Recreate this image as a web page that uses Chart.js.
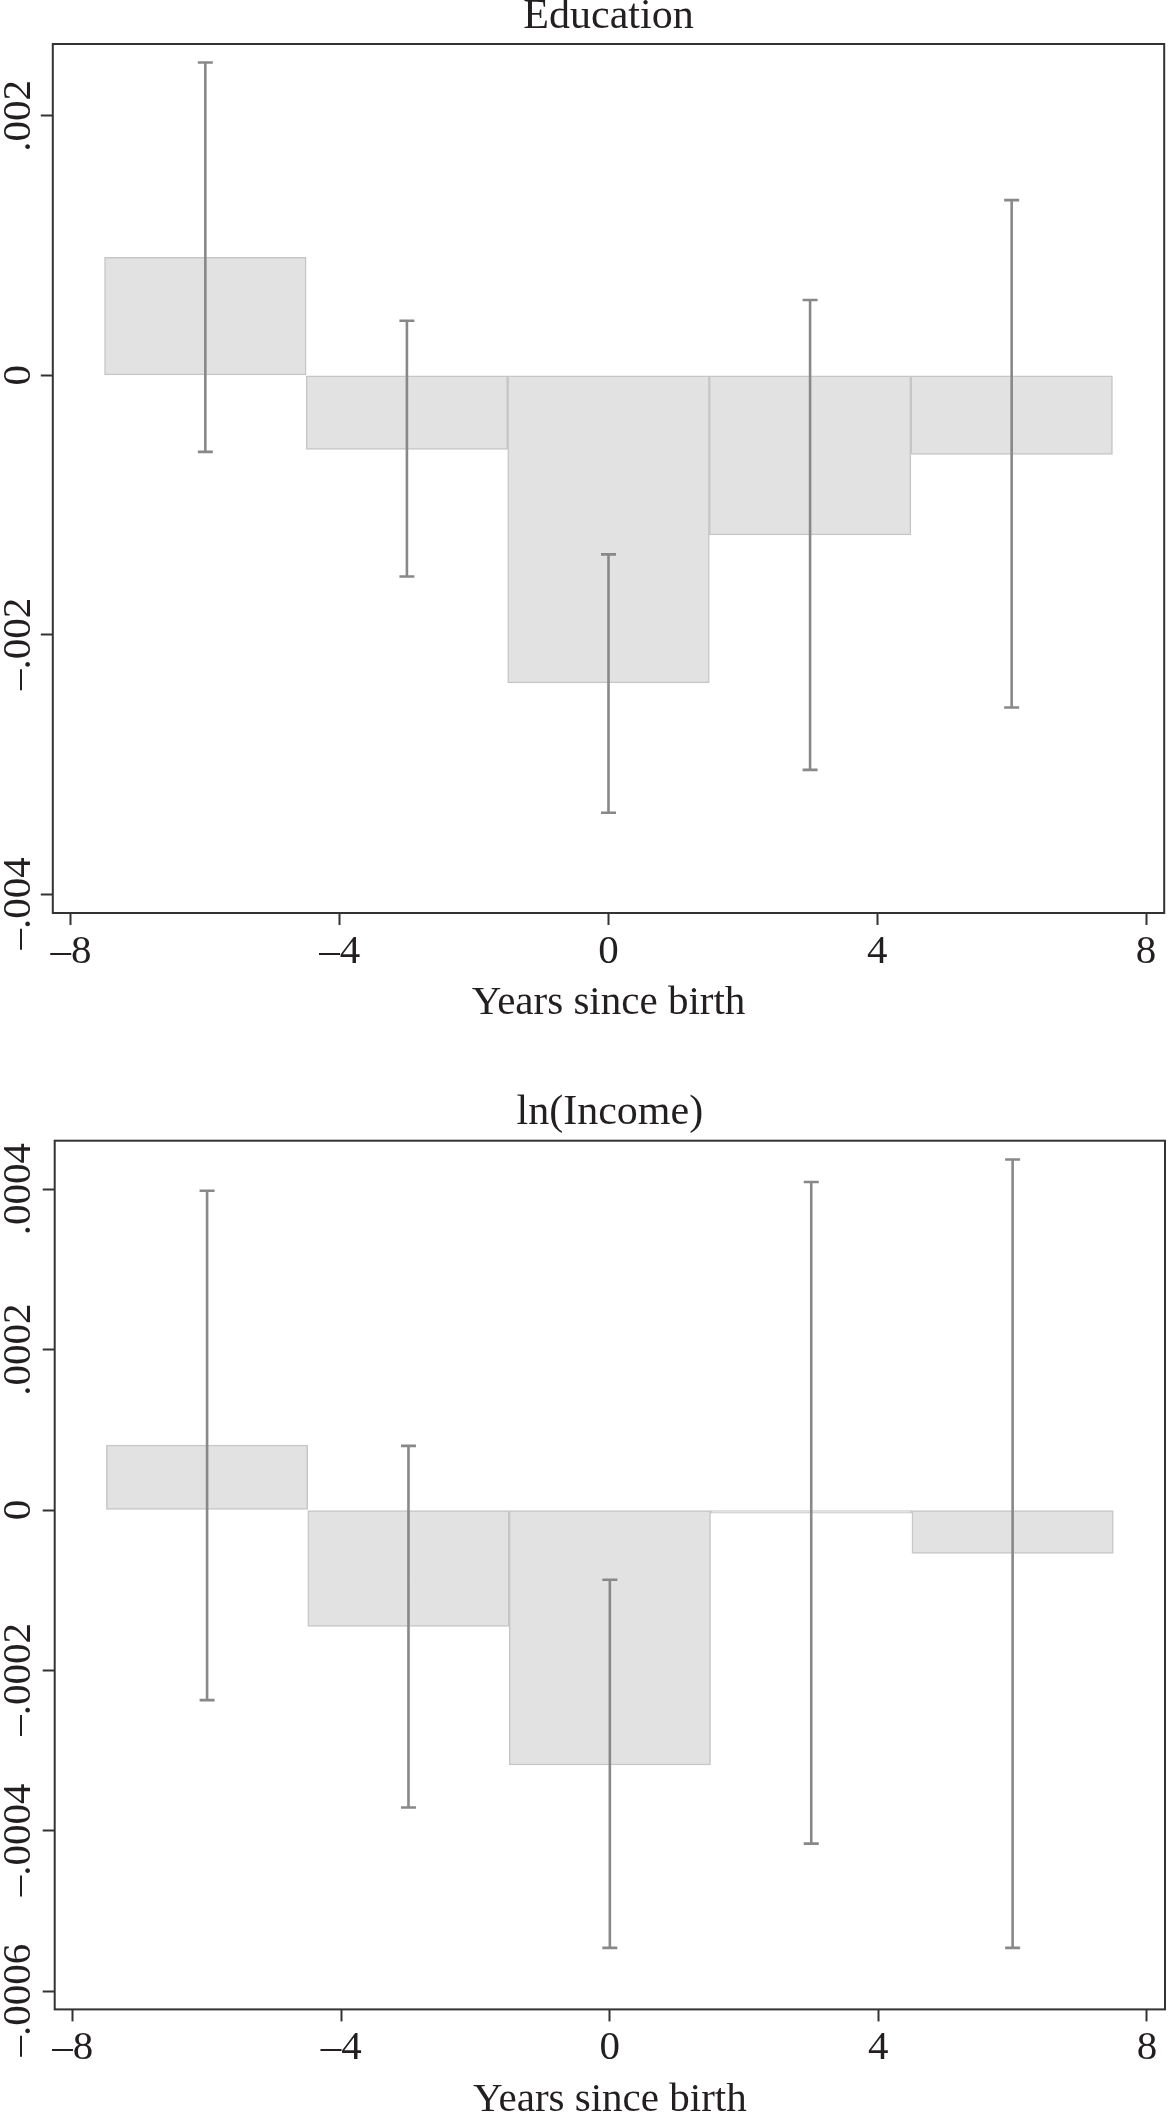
<!DOCTYPE html>
<html>
<head>
<meta charset="utf-8">
<script src="https://cdn.jsdelivr.net/npm/chart.js@4"></script>
<style>
  html, body { margin: 0; padding: 0; background: #fff; overflow: hidden; }
  canvas { position: absolute; left: 0; }
  #edu { top: 0; }
  #inc { top: 1040px; }
</style>
</head>
<body>
<canvas id="edu" width="1168" height="1040"></canvas>
<canvas id="inc" width="1168" height="1100"></canvas>
<script>
// years since birth (bin centres) and x ticks
const yearsX = [-6, -3, 0, 3, 6];
const xTickValues = [-8, -4, 0, 4, 8];
const xTickLabels = ['–8', '–4', '0', '4', '8'];

// Education panel
const eduCoef = [0.00091, -0.00057, -0.00237, -0.00123, -0.00061];
const eduLow = [-0.00059, -0.00155, -0.00337, -0.00304, -0.00256];
const eduHigh = [0.00241, 0.00042, -0.00138, 0.00058, 0.00135];
const eduTickValues = [0.002, 0, -0.002, -0.004];
const eduTickLabels = ['.002', '0', '–.002', '–.004'];

// ln(Income) panel
const incCoef = [0.000081, -0.000145, -0.000318, -0.000004, -0.000054];
const incLow = [-0.000237, -0.000371, -0.000546, -0.000416, -0.000546];
const incHigh = [0.000398, 0.00008, -0.000087, 0.000409, 0.000437];
const incTickValues = [0.0004, 0.0002, 0, -0.0002, -0.0004, -0.0006];
const incTickLabels = ['.0004', '.0002', '0', '–.0002', '–.0004', '–.0006'];

const FONT = 'Liberation Serif';
const INK = '#231f20';

// frame around the plot + rotated y tick labels (stata style)
const framePlugin = {
  id: 'frame',
  afterDraw(chart, args, opts) {
    const { ctx, chartArea: a } = chart;
    const y = chart.scales.y;
    ctx.save();
    ctx.strokeStyle = '#333';
    ctx.lineWidth = 2;
    ctx.strokeRect(a.left, a.top, a.right - a.left, a.bottom - a.top);
    ctx.fillStyle = INK;
    ctx.font = '41px "' + FONT + '"';
    ctx.textAlign = 'center';
    ctx.textBaseline = 'alphabetic';
    opts.values.forEach((v, i) => {
      const py = y.getPixelForValue(v) + (v < 0 ? 9 : 0);
      ctx.save();
      ctx.translate(30, py);
      ctx.rotate(-Math.PI / 2);
      ctx.fillText(opts.labels[i], 0, 0);
      ctx.restore();
    });
    ctx.restore();
  }
};

function errorPoints(low, high) {
  const pts = [];
  yearsX.forEach((x, i) => {
    pts.push({ x: x, y: low[i] }, { x: x, y: high[i] }, { x: x, y: null });
  });
  return pts;
}

function makeChart(id, cfg) {
  return new Chart(document.getElementById(id), {
    type: 'bar',
    data: {
      datasets: [
        {
          type: 'line',
          data: errorPoints(cfg.low, cfg.high),
          borderColor: '#888',
          borderWidth: 2.6,
          pointStyle: 'line',
          pointRadius: 7.5,
          pointBorderWidth: 2.6,
          pointBorderColor: '#888',
          pointBackgroundColor: '#888',
          spanGaps: false,
          tension: 0,
          order: 1
        },
        {
          type: 'bar',
          data: yearsX.map((x, i) => ({ x: x, y: cfg.coef[i] })),
          backgroundColor: '#e2e2e2',
          borderColor: '#c6c6c6',
          borderWidth: 1.5,
          borderSkipped: false,
          barPercentage: 1,
          categoryPercentage: 1,
          order: 2
        }
      ]
    },
    options: {
      responsive: false,
      animation: false,
      events: [],
      layout: { autoPadding: false, padding: { left: 0, right: cfg.padRight, top: 0, bottom: 0 } },
      plugins: {
        legend: { display: false },
        tooltip: { enabled: false },
        title: {
          display: true,
          text: cfg.title,
          fullSize: false,
          color: INK,
          font: { family: FONT, size: 42, weight: 'normal', lineHeight: 0.8 },
          padding: cfg.titlePad
        },
        frame: { values: cfg.tickValues, labels: cfg.tickLabels }
      },
      scales: {
        x: {
          type: 'linear',
          min: -8.27,
          max: 8.27,
          offset: false,
          afterBuildTicks: s => { s.ticks = xTickValues.map(v => ({ value: v })); },
          afterFit: s => {
            s.height = cfg.xHeight;
            s.paddingLeft = 0;
            s.paddingRight = 0;
          },
          grid: { display: true, drawOnChartArea: false, offset: false, drawTicks: true, tickLength: 12, tickColor: '#333', tickWidth: 2 },
          border: { display: false },
          ticks: {
            autoSkip: false,
            maxRotation: 0,
            padding: 6.7,
            color: INK,
            font: { family: FONT, size: 41, lineHeight: 1 },
            callback: (v, i) => xTickLabels[i]
          },
          title: {
            display: true,
            text: 'Years since birth',
            color: INK,
            font: { family: FONT, size: 41, lineHeight: 1 },
            padding: { top: 0, bottom: cfg.xTitlePad }
          }
        },
        y: {
          min: cfg.yMin,
          max: cfg.yMax,
          afterBuildTicks: s => { s.ticks = cfg.tickValues.map(v => ({ value: v })); },
          afterFit: s => {
            s.width = cfg.yWidth;
            s.paddingTop = 0;
            s.paddingBottom = 0;
          },
          grid: { display: true, drawOnChartArea: false, drawTicks: true, tickLength: 12, tickColor: '#333', tickWidth: 2 },
          border: { display: false },
          ticks: { display: false }
        }
      }
    },
    plugins: [framePlugin]
  });
}

makeChart('edu', {
  title: 'Education',
  coef: eduCoef, low: eduLow, high: eduHigh,
  tickValues: eduTickValues, tickLabels: eduTickLabels,
  yMin: -0.004143, yMax: 0.002553,
  titlePad: { top: 0, bottom: 10.4 },
  xHeight: 127, xTitlePad: 15.8,
  yWidth: 52.8, padRight: 3.8
});

makeChart('inc', {
  title: 'ln(Income)',
  coef: incCoef, low: incLow, high: incHigh,
  tickValues: incTickValues, tickLabels: incTickLabels,
  yMin: -0.0006227, yMax: 0.0004605,
  titlePad: { top: 55.7, bottom: 11.4 },
  xHeight: 130.6, xTitlePad: 19.4,
  yWidth: 54.7, padRight: 3
});
</script>
</body>
</html>
